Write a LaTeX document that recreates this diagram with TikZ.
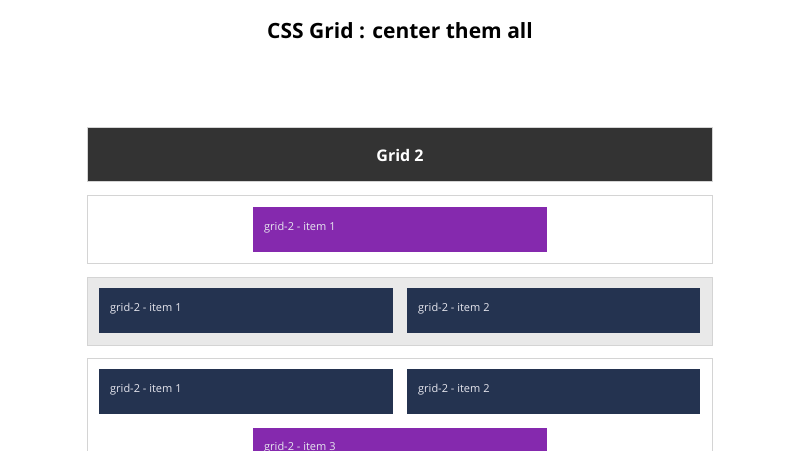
\documentclass[tikz,border=0pt]{standalone}
\usepackage{fontspec}
\setmainfont{Open Sans}
\definecolor{hdr}{HTML}{333333}
\definecolor{bordergray}{HTML}{D4D4D4}
\definecolor{panelgray}{HTML}{E9E9E9}
\definecolor{purp}{HTML}{8529AE}
\definecolor{navy}{HTML}{243350}
\definecolor{itemtext}{HTML}{E6E6EE}
\tikzset{
  panel/.style={draw=bordergray, line width=0.8pt, anchor=north west, inner sep=0pt, minimum width=625pt, minimum height=68pt},
  itembox/.style={anchor=north west, inner sep=0pt, minimum width=294pt, minimum height=45pt},
  itemlabel/.style={anchor=west, inner sep=0pt, text=itemtext, font=\fontsize{11}{13}\selectfont},
}
\begin{document}
\begin{tikzpicture}[x=1pt,y=-1pt]
\useasboundingbox (0,0) rectangle (800,450);
\clip (0,0) rectangle (800,450);
\fill[white] (0,0) rectangle (800,450);
\node[font=\fontsize{21}{25}\selectfont\bfseries] (title) at (400,31) {CSS Grid : center them all};
% header
\node[panel, fill=hdr, minimum height=54pt] (header) at (87,127) {};
\node[text=white, font=\fontsize{16}{19}\selectfont\bfseries] (headertext) at (400,155) {Grid 2};
% panel 1
\node[panel, fill=white] (p1) at (87,195) {};
\node[itembox, fill=purp] (p1a) at (253,207) {};
\node[itemlabel] (p1at) at (264,228) {grid-2 - item 1};
% panel 2
\node[panel, fill=panelgray] (p2) at (87,277) {};
\node[itembox, fill=navy] (p2a) at (99,288) {};
\node[itembox, fill=navy, minimum width=293pt] (p2b) at (407,288) {};
\node[itemlabel] (p2at) at (110,309) {grid-2 - item 1};
\node[itemlabel] (p2bt) at (418,309) {grid-2 - item 2};
% panel 3
\node[panel, fill=white, minimum height=120pt] (p3) at (87,358) {};
\node[itembox, fill=navy] (p3a) at (99,369) {};
\node[itembox, fill=navy, minimum width=293pt] (p3b) at (407,369) {};
\node[itemlabel] (p3at) at (110,390) {grid-2 - item 1};
\node[itemlabel] (p3bt) at (418,390) {grid-2 - item 2};
\node[itembox, fill=purp] (p3c) at (253,428) {};
\node[itemlabel] (p3ct) at (264,448) {grid-2 - item 3};
\end{tikzpicture}
\end{document}
